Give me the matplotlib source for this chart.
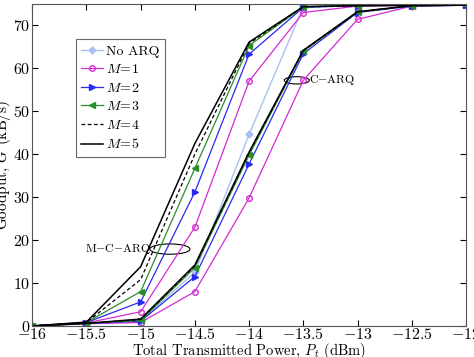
import matplotlib.pyplot as plt
from matplotlib.patches import Ellipse
from matplotlib.ticker import FuncFormatter

plt.rcParams['font.family'] = ['cmr10', 'DejaVu Serif']
plt.rcParams['mathtext.fontset'] = 'cm'
plt.rcParams['axes.formatter.use_mathtext'] = True

# transmitted power (dBm)
power = [-16, -15.5, -15, -14.5, -14, -13.5, -13, -12.5, -12]

# goodput (kB/s)
no_arq = [0, 0.5, 1.2, 12.5, 44.6, 74.3, 74.6, 74.7, 74.7]

# M-C-ARQ
mc_m1 = [0, 0.7, 3.3, 23.0, 57.0, 73.0, 74.5, 74.6, 74.7]
mc_m2 = [0, 0.8, 5.6, 31.2, 63.3, 74.2, 74.6, 74.7, 74.7]
mc_m3 = [0, 0.8, 8.0, 36.7, 65.3, 74.3, 74.6, 74.7, 74.7]
mc_m4 = [0, 0.8, 10.8, 40.0, 65.8, 74.3, 74.6, 74.7, 74.7]
mc_m5 = [0, 0.9, 13.8, 42.5, 66.1, 74.4, 74.6, 74.7, 74.7]

# C-ARQ
c_m1 = [0, 0.5, 0.8, 8.0, 29.8, 57.2, 71.4, 74.5, 74.7]
c_m2 = [0, 0.6, 1.1, 11.5, 37.7, 63.4, 73.0, 74.5, 74.7]
c_m3 = [0, 0.6, 1.3, 13.6, 39.8, 64.0, 73.1, 74.6, 74.7]
c_m4 = [0, 0.6, 1.5, 14.0, 40.3, 64.1, 73.1, 74.6, 74.7]
c_m5 = [0, 0.6, 1.6, 14.2, 40.5, 64.2, 73.2, 74.6, 74.7]

xticks = [-16, -15.5, -15, -14.5, -14, -13.5, -13, -12.5, -12]
yticks = [0, 10, 20, 30, 40, 50, 60, 70]

fig = plt.figure(figsize=(4.74, 3.57), dpi=100)
ax = fig.add_axes([0.068, 0.087, 0.915, 0.902])

lb = '#a9c1f2'
mag = '#d42ad4'
blu = '#2a2af0'
grn = '#2a8f2a'

styles = [
    dict(color=mag, marker='o', mfc='none', ms=4, lw=0.9),
    dict(color=blu, marker='>', ms=4, lw=0.9),
    dict(color=grn, marker='<', ms=4, lw=0.9),
    dict(color='k', ls='--', lw=0.9, dashes=(3, 2)),
    dict(color='k', lw=1.1),
]
labels = ['$M\\!=\\!1$', '$M\\!=\\!2$', '$M\\!=\\!3$', '$M\\!=\\!4$', '$M\\!=\\!5$']

h0, = ax.plot(power, no_arq, color=lb, marker='D', ms=3.5, lw=1.0, label='No ARQ')
handles = [h0]
for c_vals, mc_vals, st, lab in zip([c_m1, c_m2, c_m3, c_m4, c_m5],
                                    [mc_m1, mc_m2, mc_m3, mc_m4, mc_m5], styles, labels):
    ax.plot(power, c_vals, **st)
    h, = ax.plot(power, mc_vals, label=lab, **st)
    handles.append(h)

# annotations
ax.add_patch(Ellipse((-14.73, 17.9), 0.37, 2.4, fill=False, ec='k', lw=0.8))
ax.text(-14.73 - 0.18, 17.9, 'M$-$C$-$ARQ', ha='right', va='center', fontsize=8.5)
ax.add_patch(Ellipse((-13.56, 57.2), 0.23, 1.7, fill=False, ec='k', lw=0.8))
ax.text(-13.56 + 0.11, 57.2, 'C$-$ARQ', ha='left', va='center', fontsize=8.5)

ax.set_xlim(-16, -12)
ax.set_ylim(0, 75)
ax.set_xticks(xticks)
ax.set_yticks(yticks)
fmt = FuncFormatter(lambda v, p: '$%g$' % v)
ax.xaxis.set_major_formatter(fmt)
ax.yaxis.set_major_formatter(fmt)
ax.tick_params(direction='in', top=True, right=True, labelsize=11.5, length=4, pad=1)
for s in ax.spines.values():
    s.set_color('#555555')
ax.set_xlabel('Total Transmitted Power, $P_t$ (dBm)', fontsize=10.5, labelpad=-1)
ax.set_ylabel('Goodput, $G$ (kB/s)', fontsize=11, labelpad=0)

leg = ax.legend(handles=handles, loc='upper left', bbox_to_anchor=(0.1, 0.89),
                borderaxespad=0, fontsize=10, frameon=True, fancybox=False,
                edgecolor='#444444', handlelength=1.6, handletextpad=0.2,
                borderpad=0.4, labelspacing=0.4)
leg.get_frame().set_linewidth(0.8)

fig.savefig('out.png', dpi=100)
